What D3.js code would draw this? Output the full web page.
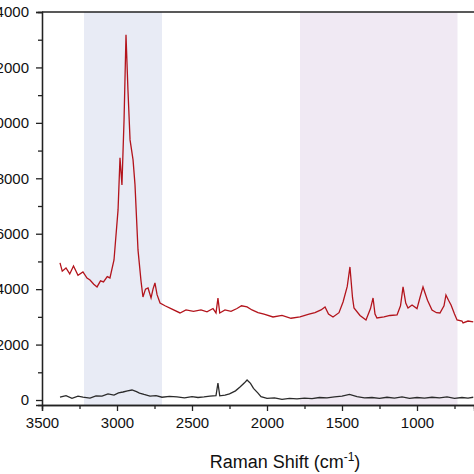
<!DOCTYPE html><html><head><meta charset="utf-8">
<script src="https://cdn.jsdelivr.net/npm/d3@7"></script>
<style>body{margin:0;background:#fff}svg{font-family:Arial,"Liberation Sans",sans-serif}</style></head><body>
<svg id="c" width="474" height="474"></svg>
<script>
const redX=[3380,3365,3340,3315,3290,3260,3227,3200,3180,3155,3133,3110,3090,3065,3047,3020,2993,2980,2967,2953,2940,2927,2913,2893,2880,2860,2840,2827,2810,2793,2773,2760,2747,2733,2713,2680,2640,2580,2540,2490,2440,2400,2360,2340,2327,2315,2280,2240,2200,2170,2133,2100,2060,2020,1960,1900,1840,1780,1720,1680,1640,1613,1590,1560,1520,1493,1465,1447,1430,1420,1380,1340,1310,1293,1280,1267,1220,1180,1133,1110,1093,1075,1060,1033,1000,980,960,930,900,870,847,820,807,790,773,750,733,700,693,660,625];
const redY=[4946,4650,4765,4550,4837,4500,4620,4400,4332,4180,4080,4300,4260,4450,4404,5054,6859,8736,7762,10108,13177,11191,9386,8664,7762,5415,4300,3718,4000,4043,3682,4000,4224,3800,3502,3400,3300,3141,3250,3200,3249,3180,3300,3141,3682,3141,3250,3200,3300,3400,3357,3250,3150,3100,2996,3050,2950,2996,3100,3150,3250,3357,3100,2996,3150,3538,4100,4801,3700,3321,3050,2888,3300,3682,3100,2960,3000,3050,3069,3400,4080,3500,3321,3430,3300,3700,4080,3600,3249,3150,3141,3400,3790,3600,3430,3100,2888,2850,2780,2850,2816];
const blackX=[3380,3340,3300,3260,3227,3180,3140,3100,3060,3020,2990,2960,2930,2900,2870,2850,2820,2780,2740,2700,2650,2600,2550,2500,2460,2420,2380,2340,2327,2315,2280,2250,2210,2180,2150,2133,2110,2090,2060,2040,2000,1950,1900,1850,1800,1750,1700,1650,1600,1550,1500,1450,1400,1350,1300,1250,1200,1150,1100,1050,1000,950,900,850,800,750,700,660,625];
const blackY=[108,160,60,140,108,70,150,140,220,180,260,289,330,361,300,250,200,140,160,100,130,110,80,120,90,110,140,160,614,150,180,220,330,469,620,722,600,420,250,120,60,80,20,60,40,70,50,90,80,110,140,200,120,80,90,60,100,70,110,60,90,70,100,80,110,60,90,70,100];
const xTicks=[3500,3000,2500,2000,1500,1000];
const yTicks=[0,2000,4000,6000,8000,10000,12000,14000];
const bands=[[3220,2700,"#e8ebf5"],[1780,730,"#f0e9f3"]];

const svg=d3.select("#c");
const x=d3.scaleLinear().domain([3500,620]).range([42,474]);
const y=d3.scaleLinear().domain([-180,14000]).range([405,12]);
svg.selectAll("rect.b").data(bands).join("rect").attr("x",d=>x(d[0])).attr("width",d=>x(d[1])-x(d[0]))
 .attr("y",12).attr("height",393).attr("fill",d=>d[2]);
const line=d3.line().x(d=>x(d[0])).y(d=>y(d[1]));
svg.append("path").datum(blackX.map((v,i)=>[v,blackY[i]])).attr("d",line).attr("fill","none").attr("stroke","#2b2b2b").attr("stroke-width",1.3);
svg.append("path").datum(redX.map((v,i)=>[v,redY[i]])).attr("d",line).attr("fill","none").attr("stroke","#b3141c").attr("stroke-width",1.3);
const xa=svg.append("g").attr("transform","translate(0,405)");
xa.call(d3.axisBottom(x).tickValues(xTicks).tickSize(6).tickPadding(6).tickFormat(d3.format("d")));
xa.append("g").call(d3.axisBottom(x).tickValues(d3.range(3250,620,-500)).tickSize(4).tickFormat(""));
const ya=svg.append("g").attr("transform","translate(42,0)");
ya.call(d3.axisLeft(y).tickValues(yTicks).tickSize(6).tickPadding(7).tickFormat(d3.format("d")));
ya.append("g").call(d3.axisLeft(y).tickValues(d3.range(1000,14000,2000)).tickSize(4).tickFormat(""));
svg.selectAll(".domain").attr("stroke","#222").attr("stroke-width",1.3);
svg.selectAll(".tick line").attr("stroke","#222").attr("stroke-width",1.3);
svg.selectAll(".tick text").attr("font-size",15).attr("fill","#111");
svg.append("line").attr("x1",42).attr("x2",474).attr("y1",12).attr("y2",12).attr("stroke","#222").attr("stroke-width",1.3);
const t=svg.append("text").attr("x",285).attr("y",468).attr("text-anchor","middle").attr("font-size",18).attr("fill","#111").text("Raman Shift (cm");
t.append("tspan").attr("font-size",12).attr("dy",-7).text("-1");
t.append("tspan").attr("dy",7).text(")");
</script></body></html>
